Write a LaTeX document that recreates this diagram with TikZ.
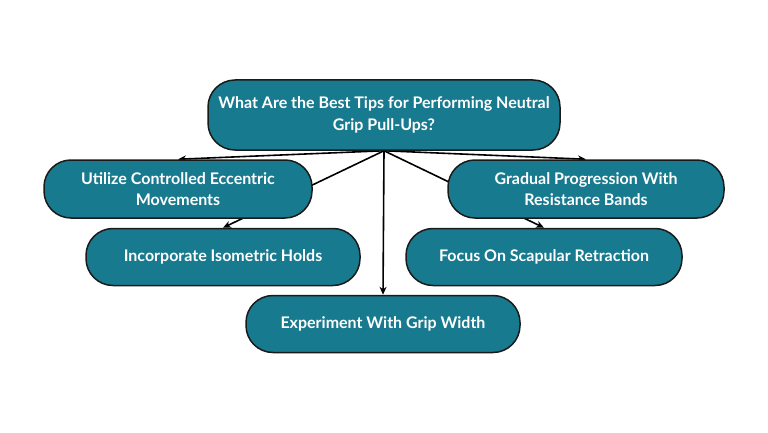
\documentclass[tikz,border=0pt]{standalone}
\usepackage{fontspec}
\setmainfont{Lato}
\usepackage{xcolor}
\usetikzlibrary{arrows.meta,backgrounds}
\definecolor{tipteal}{HTML}{187A8E}
\definecolor{tipedge}{HTML}{1A1A1A}

\begin{document}
\begin{tikzpicture}[
    x=1pt, y=1pt,
    tip/.style={rectangle, rounded corners=27pt, draw=tipedge, line width=1.5pt, fill=tipteal,
        text=white, font=\bfseries\fontsize{16}{21.5}\selectfont, align=center,
        minimum width=274pt, minimum height=57pt, inner sep=0pt},
    mainbox/.style={tip, minimum width=352pt, minimum height=70pt},
    arrow/.style={-{Stealth[length=8pt,width=7pt]}, line width=1.6pt, black}
]
\useasboundingbox (0,0) rectangle (768,432);

% Question
\node[mainbox] (question) at (384,317) {What Are the Best Tips for Performing Neutral\\Grip Pull-Ups?};

% Tips, upper row
\node[tip, minimum width=268pt, minimum height=58pt] (eccentric) at (178,243) {Utilize Controlled Eccentric\\Movements};
\node[tip, minimum width=276pt, minimum height=58pt] (bands) at (586,243) {Gradual Progression With\\Resistance Bands};

% Tips, lower row
\node[tip] (isometric) at (223,175) {Incorporate Isometric Holds};
\node[tip, minimum width=276pt] (scapular) at (544,175) {Focus On Scapular Retraction};

% Last tip
\node[tip] (width) at (383,108) {Experiment With Grip Width};

% Arrows
\begin{scope}[on background layer]
\draw[arrow] (question.south) -- (eccentric.north);
\draw[arrow] (question.south) -- (bands.north);
\draw[arrow] (question.south) -- (isometric.north);
\draw[arrow] (question.south) -- (scapular.north);
\draw[arrow] (question.south) -- (width.north);
\end{scope}

\end{tikzpicture}
\end{document}
